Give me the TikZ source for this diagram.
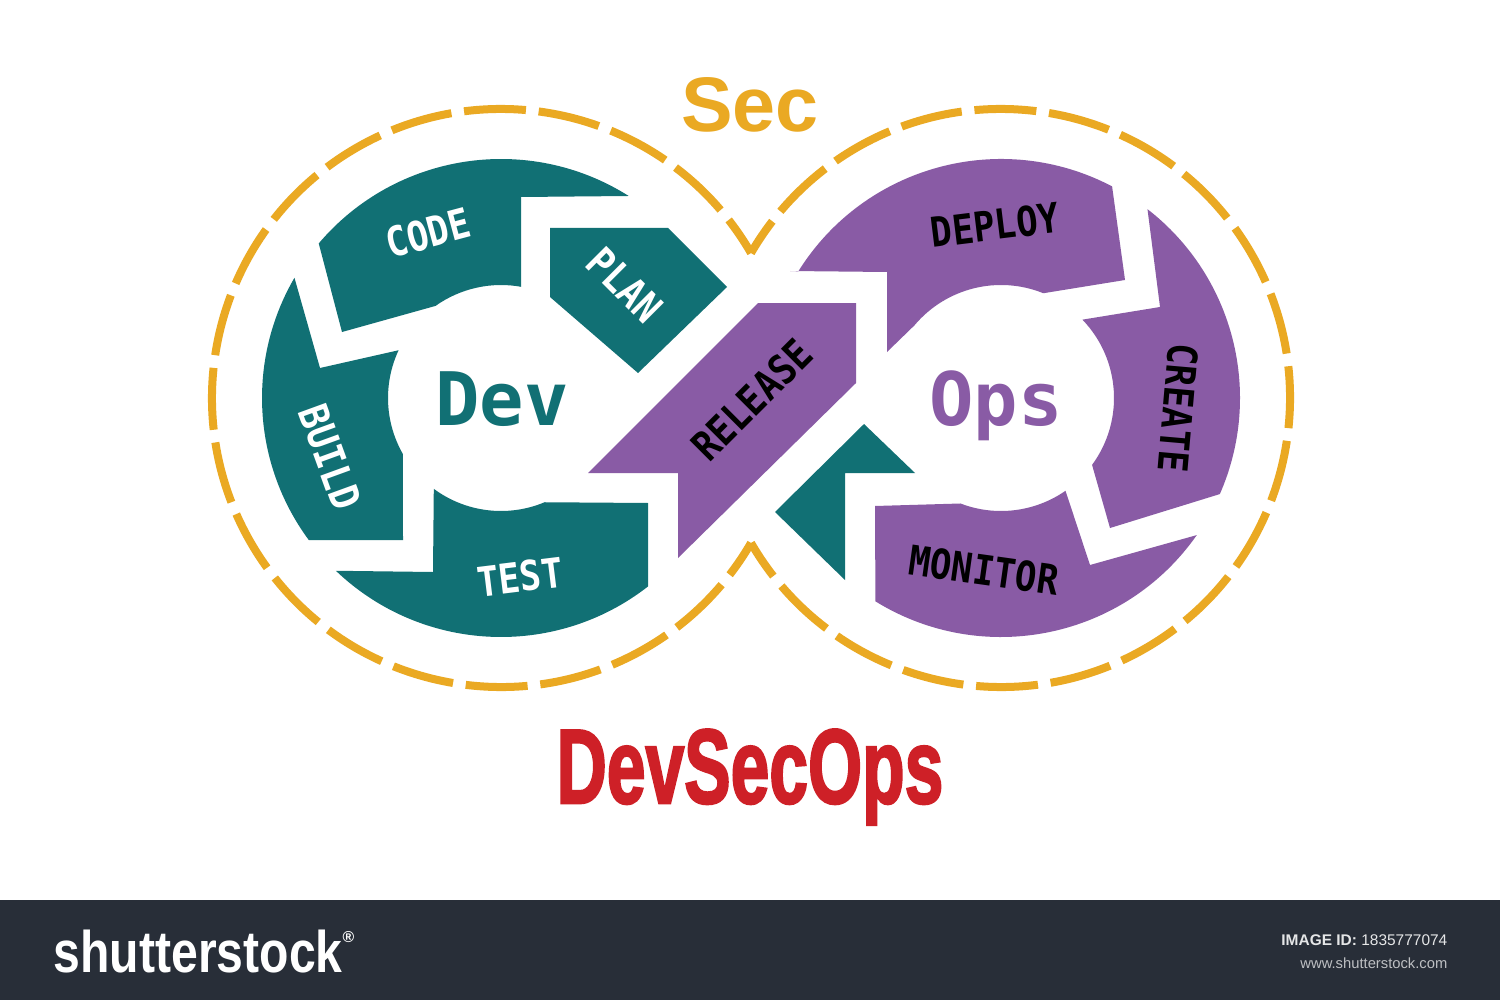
\documentclass[tikz,border=0pt]{standalone}
\usepackage{fontspec}
\usepackage{xcolor}
\usepackage{graphicx}
\usepackage{tikz}
\usetikzlibrary{calc}
\newfontfamily\monofam{DejaVu Sans Mono}
\newfontfamily\arialfam{Liberation Sans}
\newfontfamily\titlefam{Liberation Sans Bold}[FakeBold=2.5]
\definecolor{devteal}{RGB}{17,112,116}
\definecolor{opspurple}{RGB}{137,91,165}
\definecolor{secorange}{RGB}{234,169,35}
\definecolor{titlered}{RGB}{206,32,39}
\definecolor{barcol}{RGB}{40,46,56}
\newcommand\ringout{23.9mm}
\newcommand\ringin{11.3mm}
\newcommand\ringsec{28.9mm}
\newcommand\squeeze[1]{\scalebox{0.87}[1]{#1}}

\begin{document}
\begin{tikzpicture}[x=0.1mm, y=0.1mm,
    lbl/.style={inner sep=0pt, font=\monofam\bfseries\fontsize{11.7pt}{11.7pt}\selectfont},
    hub/.style={inner sep=0pt, anchor=base, font=\monofam\bfseries\fontsize{21pt}{21pt}\selectfont},
    secline/.style={secorange, line width=0.8mm, dash pattern=on 6.2mm off 1.28mm, dash phase=2.2mm}]
    \fill[white] (0,0) rectangle (1500,1000);
    \useasboundingbox (0,0) rectangle (1500,1000);

    \coordinate (devc) at (501,602);
    \coordinate (opsc) at (1001,602);

    \draw[secline] ($(devc)+(30.1:\ringsec)$) arc[start angle=30.1, end angle=329.9, radius=\ringsec];
    \draw[secline] ($(opsc)+(-149.9:\ringsec)$) arc[start angle=-149.9, end angle=149.9, radius=\ringsec];

    \fill[devteal] ($(devc)+(57.7:\ringout)$) -- (521,803) -- ($(devc)+(79.8:\ringin)$)
        arc[start angle=79.8, end angle=125.4, radius=\ringin] -- (342,668)
        -- ($(devc)+(139.7:\ringout)$) arc[start angle=139.7, end angle=57.7, radius=\ringout] -- cycle;
    \fill[devteal] (550,772) -- (668,772) -- (727,713) -- (638,627) -- (550,703) -- cycle;
    \fill[devteal] ($(devc)+(149.8:\ringout)$) -- (320,632) -- ($(devc)+(155:\ringin)$)
        arc[start angle=155, end angle=209.7, radius=\ringin] -- (403,460)
        -- ($(devc)+(216.5:\ringout)$) arc[start angle=216.5, end angle=149.8, radius=\ringout] -- cycle;
    \fill[devteal] ($(devc)+(226.3:\ringout)$) -- (433,428) -- ($(devc)+(233.5:\ringin)$)
        arc[start angle=233.5, end angle=292.7, radius=\ringin] -- (648,497)
        -- ($(devc)+(308:\ringout)$) arc[start angle=308, end angle=226.3, radius=\ringout] -- cycle;
    \fill[devteal] (775,488) -- (864,576) -- (915,527) -- (845,527) -- (845,420) -- cycle;

    \fill[opspurple] (588,527) -- (758,697) -- (856,697) -- (856,617) -- (678,442) -- (678,527) -- cycle;
    \fill[opspurple] (790,729) -- (887,728) -- (887,648) -- ($(opsc)+(140:\ringin)$)
        arc[start angle=140, end angle=68, radius=\ringin] -- (1125,720)
        -- ($(opsc)+(62.3:\ringout)$) arc[start angle=62.3, end angle=148, radius=\ringout] -- cycle;
    \fill[opspurple] ($(opsc)+(52.2:\ringout)$) -- (1160,693) -- ($(opsc)+(43.9:\ringin)$)
        arc[start angle=43.9, end angle=-36.3, radius=\ringin] -- (1110,472)
        -- ($(opsc)+(-23.7:\ringout)$) arc[start angle=-23.7, end angle=52.2, radius=\ringout] -- cycle;
    \fill[opspurple] (875,494) -- ($(opsc)+(249:\ringin)$)
        arc[start angle=249, end angle=304.8, radius=\ringin] -- (1090,435)
        -- ($(opsc)+(325:\ringout)$) arc[start angle=325, end angle=238.3, radius=\ringout] -- cycle;

    \node[lbl, white, rotate=15] (code) at (428,767) {\squeeze{CODE}};
    \node[lbl, white, rotate=-45] (plan) at (625,715) {\squeeze{PLAN}};
    \node[lbl, white, rotate=-70] (build) at (330,543) {\squeeze{BUILD}};
    \node[lbl, white, rotate=7] (test) at (520,423) {\squeeze{TEST}};
    \node[lbl, black, rotate=45] (release) at (752,600) {\squeeze{RELEASE}};
    \node[lbl, black, rotate=7] (deploy) at (995,775) {\squeeze{DEPLOY}};
    \node[lbl, black, rotate=-95] (create) at (1178,592) {\squeeze{CREATE}};
    \node[lbl, black, rotate=-8] (monitor) at (984,430) {\squeeze{MONITOR}};

    \node[hub, devteal] (dev) at (502,575) {Dev};
    \node[hub, opspurple] (ops) at (996,575) {Ops};

    \node[inner sep=0pt, secorange, font=\arialfam\bfseries\fontsize{22pt}{22pt}\selectfont] (sec) at (750,895) {Sec};
    \node[inner sep=0pt, anchor=base, titlered, font=\titlefam\fontsize{30pt}{30pt}\selectfont] (title) at (750,197) {\scalebox{0.66}[1]{DevSecOps}};

    \fill[barcol] (0,0) rectangle (1500,100);
    \node[inner sep=0pt, anchor=base west, white, font=\arialfam\bfseries\fontsize{16.7pt}{16.7pt}\selectfont] (logo) at (53,28) {\scalebox{0.82}[1]{shutterstock}\raisebox{0.95ex}{\fontsize{4.5pt}{4.5pt}\selectfont ®}};
    \node[inner sep=0pt, anchor=base east, white!88!barcol, font=\arialfam\fontsize{4.4pt}{4.4pt}\selectfont] (imgid) at (1448,55) {\textbf{IMAGE ID:} 1835777074};
    \node[inner sep=0pt, anchor=base east, white!70!barcol, font=\arialfam\fontsize{4.2pt}{4.2pt}\selectfont] (url) at (1448,32) {www.shutterstock.com};
\end{tikzpicture}
\end{document}
